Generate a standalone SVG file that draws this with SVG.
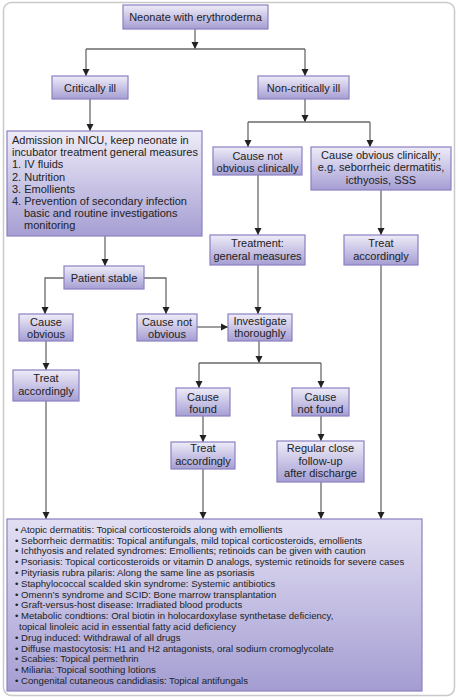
<svg xmlns="http://www.w3.org/2000/svg" width="458" height="700" viewBox="0 0 458 700">
<defs>
<linearGradient id="g" x1="0" y1="0" x2="0" y2="1">
<stop offset="0" stop-color="#eeecf8"/>
<stop offset="1" stop-color="#a59ed3"/>
</linearGradient>
<linearGradient id="gb" x1="0" y1="0" x2="0" y2="1">
<stop offset="0" stop-color="#e2dff3"/>
<stop offset="1" stop-color="#a49dd2"/>
</linearGradient>
<marker id="ah" markerWidth="8" markerHeight="8" refX="7" refY="4" orient="auto" markerUnits="userSpaceOnUse">
<path d="M0,0.5 L7,4 L0,7.5 z" fill="#222"/>
</marker>
<style>
.box{fill:url(#g);stroke:#8a80c2;stroke-width:1.2}
.bbox{fill:url(#gb);stroke:#8a80c2;stroke-width:1.2}
.t{font-family:"Liberation Sans",Arial,sans-serif;font-size:11px;fill:#222;text-anchor:middle}
.tl{font-family:"Liberation Sans",Arial,sans-serif;font-size:11px;fill:#222}
.tb{font-family:"Liberation Sans",Arial,sans-serif;font-size:9.6px;fill:#222}
.c{fill:none;stroke:#6a6a6a;stroke-width:1.3}
.a{marker-end:url(#ah)}
</style>
</defs>
<rect x="3.5" y="2.5" width="451" height="693" rx="8" fill="#fff" stroke="#c9c9c9" stroke-width="1.5"/>

<g id="connectors">
<path class="c a" d="M195,29 V49"/>
<path class="c a" d="M86,49 H305 M86,49 V76"/>
<path class="c a" d="M305,49 V76"/>
<path class="c a" d="M90,99 V131"/>
<path class="c a" d="M305,99 V122"/>
<path class="c a" d="M248,122 H370 M248,122 V147"/>
<path class="c a" d="M370,122 V147"/>
<path class="c a" d="M105,236 V266"/>
<path class="c a" d="M64,278 H45 V314"/>
<path class="c a" d="M144,278 H166 V314"/>
<path class="c a" d="M197,327 H228"/>
<path class="c a" d="M46,341 V370"/>
<path class="c a" d="M46,401 V519"/>
<path class="c a" d="M258,175 V235"/>
<path class="c a" d="M258,265 V314"/>
<path class="c a" d="M381,190 V235"/>
<path class="c a" d="M381,265 V519"/>
<path class="c a" d="M259,341 V363"/>
<path class="c a" d="M199,363 H321 M199,363 V388"/>
<path class="c a" d="M321,363 V388"/>
<path class="c a" d="M203,416 V442"/>
<path class="c a" d="M321,416 V441"/>
<path class="c a" d="M203,469 V519"/>
<path class="c a" d="M321,482 V519"/>
</g>

<g id="n1"><rect class="box" x="123" y="5" width="145" height="24"/><text class="t" x="195.5" y="21">Neonate with erythroderma</text></g>
<g id="n2"><rect class="box" x="52" y="76" width="76" height="23"/><text class="t" x="90" y="91.5">Critically ill</text></g>
<g id="n3"><rect class="box" x="258" y="76" width="91" height="23"/><text class="t" x="303.5" y="91.5">Non-critically ill</text></g>
<g id="n4"><rect class="box" x="7" y="131" width="195" height="105"/>
<text class="tl" x="12" y="144">Admission in NICU, keep neonate in</text>
<text class="tl" x="12" y="156.2">incubator treatment general measures</text>
<text class="tl" x="12" y="168.4">1. IV fluids</text>
<text class="tl" x="12" y="180.6">2. Nutrition</text>
<text class="tl" x="12" y="192.8">3. Emollients</text>
<text class="tl" x="12" y="205">4. Prevention of secondary infection</text>
<text class="tl" x="24" y="217.2">basic and routine investigations</text>
<text class="tl" x="24" y="229.4">monitoring</text></g>
<g id="n5"><rect class="box" x="64" y="266" width="80" height="23"/><text class="t" x="104" y="281.5">Patient stable</text></g>
<g id="n6"><rect class="box" x="19" y="314" width="54" height="27"/><text class="t" x="46" y="325.5">Cause</text><text class="t" x="46" y="338">obvious</text></g>
<g id="n7"><rect class="box" x="137" y="314" width="60" height="27"/><text class="t" x="167" y="325.5">Cause not</text><text class="t" x="167" y="338">obvious</text></g>
<g id="n8"><rect class="box" x="228" y="314" width="64" height="27"/><text class="t" x="260" y="324.5">Investigate</text><text class="t" x="260" y="336.8">thoroughly</text></g>
<g id="n9"><rect class="box" x="13" y="370" width="66" height="31"/><text class="t" x="46" y="382">Treat</text><text class="t" x="46" y="395">accordingly</text></g>
<g id="n10"><rect class="box" x="213" y="147" width="89" height="28"/><text class="t" x="257.5" y="159.5">Cause not</text><text class="t" x="257.5" y="171.5">obvious clinically</text></g>
<g id="n11"><rect class="box" x="311" y="147" width="140" height="43"/><text class="t" x="381" y="159">Cause obvious clinically;</text><text class="t" x="381" y="171.4">e.g. seborrheic dermatitis,</text><text class="t" x="381" y="183.8">icthyosis, SSS</text></g>
<g id="n12"><rect class="box" x="210" y="235" width="95" height="30"/><text class="t" x="257.5" y="247">Treatment:</text><text class="t" x="257.5" y="259.5">general measures</text></g>
<g id="n13"><rect class="box" x="344" y="235" width="74" height="30"/><text class="t" x="381" y="247">Treat</text><text class="t" x="381" y="259.5">accordingly</text></g>
<g id="n14"><rect class="box" x="176" y="388" width="54" height="28"/><text class="t" x="203" y="400.5">Cause</text><text class="t" x="203" y="412.7">found</text></g>
<g id="n15"><rect class="box" x="292" y="388" width="57" height="28"/><text class="t" x="320.5" y="400.5">Cause</text><text class="t" x="320.5" y="412.7">not found</text></g>
<g id="n16"><rect class="box" x="171" y="442" width="64" height="27"/><text class="t" x="203" y="452">Treat</text><text class="t" x="203" y="465">accordingly</text></g>
<g id="n17"><rect class="box" x="277" y="441" width="87" height="41"/><text class="t" x="320.5" y="452">Regular close</text><text class="t" x="320.5" y="464.5">follow-up</text><text class="t" x="320.5" y="477">after discharge</text></g>
<g id="n18"><rect class="bbox" x="7" y="519" width="415" height="172"/>
<text class="tb" x="15" y="532.7">• Atopic dermatitis: Topical corticosteroids along with emollients</text>
<text class="tb" x="15" y="543.5">• Seborrheic dermatitis: Topical antifungals, mild topical corticosteroids, emollients</text>
<text class="tb" x="15" y="554.3">• Ichthyosis and related syndromes: Emollients; retinoids can be given with caution</text>
<text class="tb" x="15" y="565.1">• Psoriasis: Topical corticosteroids or vitamin D analogs, systemic retinoids for severe cases</text>
<text class="tb" x="15" y="575.9">• Pityriasis rubra pilaris: Along the same line as psoriasis</text>
<text class="tb" x="15" y="586.7">• Staphylococcal scalded skin syndrome: Systemic antibiotics</text>
<text class="tb" x="15" y="597.5">• Omenn’s syndrome and SCID: Bone marrow transplantation</text>
<text class="tb" x="15" y="608.3">• Graft-versus-host disease: Irradiated blood products</text>
<text class="tb" x="15" y="619.1">• Metabolic condtions: Oral biotin in holocardoxylase synthetase deficiency,</text>
<text class="tb" x="19" y="629.9">topical linoleic acid in essential fatty acid deficiency</text>
<text class="tb" x="15" y="640.7">• Drug induced: Withdrawal of all drugs</text>
<text class="tb" x="15" y="651.5">• Diffuse mastocytosis: H1 and H2 antagonists, oral sodium cromoglycolate</text>
<text class="tb" x="15" y="662.3">• Scabies: Topical permethrin</text>
<text class="tb" x="15" y="673.1">• Miliaria: Topical soothing lotions</text>
<text class="tb" x="15" y="683.9">• Congenital cutaneous candidiasis: Topical antifungals</text></g>
</svg>
